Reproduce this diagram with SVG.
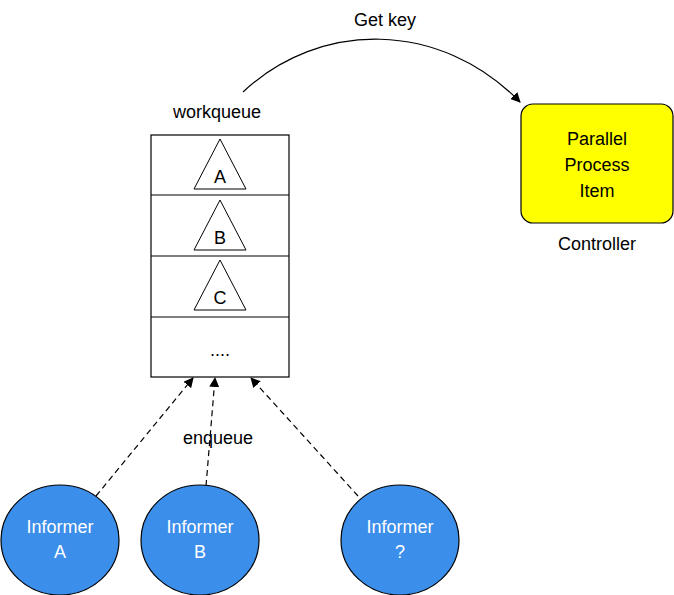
<svg xmlns="http://www.w3.org/2000/svg" width="674" height="595" viewBox="0 0 674 595">
<style>
text{font-family:"Helvetica","Liberation Sans",Arial,sans-serif;font-size:18px;text-anchor:middle}
.w{fill:#fff}
.tri{fill:#fff;stroke:#000;stroke-width:1}
.inf{fill:#3b8eea;stroke:#000;stroke-width:1.2}
.d{stroke:#000;stroke-width:1.2;stroke-dasharray:6 4;fill:none}
</style>
<defs><marker id="ah" viewBox="0 0 10 10" refX="9" refY="5" markerWidth="10" markerHeight="10" markerUnits="userSpaceOnUse" orient="auto"><path d="M0,0L10,5L0,10z"/></marker></defs>
<g id="queue">
<rect x="151" y="135" width="138" height="242" fill="#fff" stroke="#000" stroke-width="1.2"/>
<line x1="151" y1="195" x2="289" y2="195" stroke="#000" stroke-width="1.2"/>
<line x1="151" y1="256" x2="289" y2="256" stroke="#000" stroke-width="1.2"/>
<line x1="151" y1="317" x2="289" y2="317" stroke="#000" stroke-width="1.2"/>
<polygon class="tri" points="220,139 194,189 246,189"/><text x="220" y="183">A</text>
<polygon class="tri" points="220,200 194,250 246,250"/><text x="220" y="244">B</text>
<polygon class="tri" points="220,260 194,310 246,310"/><text x="220" y="304">C</text>
<text x="220" y="356">....</text>
<text x="217" y="118">workqueue</text>
</g>
<g id="controller">
<rect x="521" y="104" width="152" height="119" rx="12" fill="#ffff00" stroke="#000" stroke-width="1.2"/>
<text x="597" y="145">Parallel</text><text x="597" y="171">Process</text><text x="597" y="197">Item</text>
<text x="597" y="250">Controller</text>
</g>
<g id="informerA"><ellipse class="inf" cx="60" cy="540" rx="59" ry="55"/><text class="w" x="60" y="533">Informer</text><text class="w" x="60" y="558">A</text></g>
<g id="informerB"><ellipse class="inf" cx="200" cy="540" rx="59" ry="55"/><text class="w" x="200" y="533">Informer</text><text class="w" x="200" y="558">B</text></g>
<g id="informerQ"><ellipse class="inf" cx="400" cy="540" rx="59" ry="55"/><text class="w" x="400" y="533">Informer</text><text class="w" x="400" y="558">?</text></g>
<g id="connectors">
<line class="d" x1="96" y1="496" x2="193" y2="378" marker-end="url(#ah)"/>
<line class="d" x1="206" y1="486" x2="215" y2="378" marker-end="url(#ah)"/>
<line class="d" x1="358" y1="496" x2="251" y2="378" marker-end="url(#ah)"/>
<path d="M243,92 C320,20 440,20 520,102" fill="none" stroke="#000" stroke-width="1.2" marker-end="url(#ah)"/>
<text x="385" y="26">Get key</text>
<text x="218" y="444">enqueue</text>
</g>
</svg>
